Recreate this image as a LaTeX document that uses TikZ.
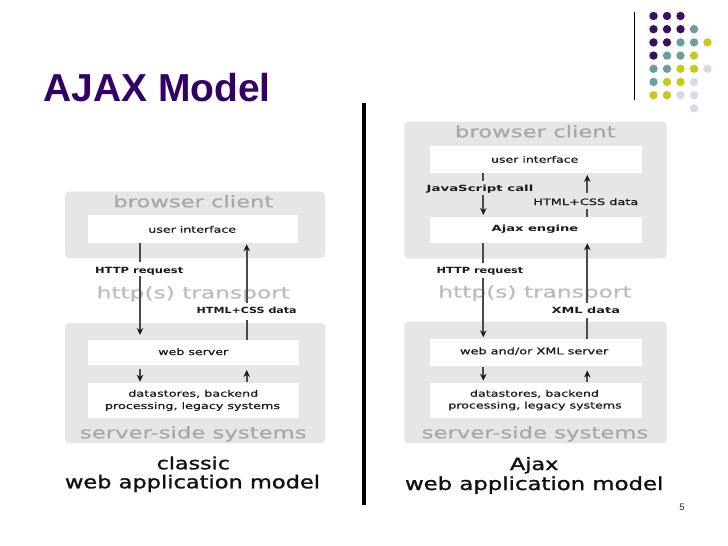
\documentclass[tikz,border=0pt]{standalone}
\usepackage{fontspec}
\usepackage{graphicx}
\usetikzlibrary{arrows.meta}
\newfontfamily\dv{DejaVu Sans}
\newfontfamily\dvm{DejaVu Sans}[FakeBold=0.6]
\newfontfamily\dvc{DejaVu Sans}[FakeBold=1.2]
\newfontfamily\lib{Liberation Sans}
\definecolor{titlecol}{HTML}{330066}
\definecolor{boxgray}{HTML}{E6E6E6}
\definecolor{biggray}{HTML}{A8A8A8}
\definecolor{transcol}{HTML}{BCBCBC}
\definecolor{txtcol}{HTML}{1A1A1A}
\definecolor{linecol}{HTML}{4A4A4A}
\definecolor{headcol}{HTML}{1A1A1A}
\definecolor{captcol}{HTML}{111111}
\definecolor{dP}{HTML}{3C0F5C}
\definecolor{dT}{HTML}{6F9C9C}
\definecolor{dY}{HTML}{C9C823}
\definecolor{dL}{HTML}{D9D9EA}
\newcommand\fw[2]{\resizebox{#1pt}{\height}{#2}}
\tikzset{
 graybox/.style={fill=boxgray, rounded corners=4pt, inner sep=0pt, outer sep=0pt, anchor=north west},
 whitebox/.style={fill=white, inner sep=0pt, outer sep=0pt, anchor=north west},
 bigtxt/.style={font=\dvm\fontsize{16}{16}\selectfont, text=biggray, inner sep=0pt, outer sep=0pt, anchor=base},
 smalltxt/.style={font=\dvm\fontsize{9}{9}\selectfont, text=txtcol, inner sep=0pt, outer sep=0pt, anchor=base},
 lbltxt/.style={font=\dv\bfseries\fontsize{8.5}{8.5}\selectfont, text=txtcol, inner sep=0pt, outer sep=0pt, anchor=base},
 captxt/.style={font=\dvc\fontsize{18}{18}\selectfont, text=captcol, inner sep=0pt, outer sep=0pt, anchor=base},
 ln/.style={draw=linecol, line width=1.9pt},
 arr/.style={ln, -{Stealth[length=7pt,width=6.5pt,color=headcol]}},
}
\begin{document}
\begin{tikzpicture}[x=1pt,y=-1pt]
\useasboundingbox[fill=white] (0,0) rectangle (728,546);

% title
\node[anchor=base west, font=\lib\bfseries\fontsize{39}{39}\selectfont, text=titlecol, inner sep=0pt] (title) at (43,101.7) {AJAX Model};

% decorative dots
\draw[line width=1pt] (634.7,12.3) -- (634.7,100);
\foreach \c/\r/\col in {1/1/dP,2/1/dP,3/1/dP,
  1/2/dP,2/2/dP,3/2/dP,4/2/dT,
  1/3/dP,2/3/dP,3/3/dT,4/3/dT,5/3/dY,
  1/4/dP,2/4/dT,3/4/dT,4/4/dY,
  1/5/dT,2/5/dT,3/5/dY,4/5/dY,5/5/dL,
  1/6/dT,2/6/dY,3/6/dY,4/6/dL,
  1/7/dY,2/7/dY,3/7/dL,4/7/dL,
  4/8/dL}
  \fill[\col] ({640+13.5*\c},{2.8+13.2*\r}) circle (4.2pt);

% divider
\draw[line width=4.6pt] (364,102.7) -- (364,505);

% page number
\node[anchor=base, font=\lib\fontsize{9.5}{9.5}\selectfont, text=black!85, inner sep=0pt] (pg) at (682,510.5) {5};

% ---------- left diagram ----------
\node[graybox, minimum width=260pt, minimum height=66.3pt] (LBC) at (65,191.7) {};
\node[graybox, minimum width=260pt, minimum height=120.3pt] (LSS) at (65,323) {};
\node[whitebox, minimum width=210pt, minimum height=27.7pt] (LUI) at (88.3,215) {};
\node[whitebox, minimum width=211pt, minimum height=25pt] (LWS) at (88.3,340) {};
\node[whitebox, minimum width=211pt, minimum height=35pt] (LDS) at (88.3,383.3) {};

\node[bigtxt] (LBCt) at (193.3,207.3) {\fw{160}{browser client}};
\node[smalltxt] (LUIt) at (192.2,232.7) {\fw{87.7}{user interface}};
\node[bigtxt, text=transcol] (Ltr) at (193.3,298.3) {\fw{193.3}{http(s) transport}};
\node[smalltxt] (LWSt) at (193.3,355) {\fw{70}{web server}};
\node[smalltxt] (LDS1) at (193.3,396.7) {\fw{130}{datastores, backend}};
\node[smalltxt] (LDS2) at (192.5,409) {\fw{175}{processing, legacy systems}};
\node[bigtxt] (LSSt) at (193.3,438.3) {\fw{226.7}{server-side systems}};
\node[captxt, font=\dvc\fontsize{17}{17}\selectfont] (Lc1) at (193.3,469.3) {\fw{73.3}{classic}};
\node[captxt] (Lc2) at (192.5,488.3) {\fw{255}{web application model}};

\node[lbltxt] (Lreq) at (139.2,273.3) {\fw{88.3}{HTTP request}};
\node[lbltxt] (Lhtml) at (246.7,313.3) {\fw{100}{HTML+CSS data}};

\coordinate (xa) at (140,0);
\coordinate (xb) at (246.7,0);
\draw[ln, shorten >=5pt] (LUI.south -| xa) -- (Lreq.north -| xa);
\draw[arr, shorten <=1.4pt, shorten >=5pt] (Lreq.south -| xa) -- (LWS.north -| xa);
\draw[arr, shorten <=4pt, shorten >=1.6pt] (Lhtml.north -| xb) -- (LUI.south -| xb);
\draw[ln, shorten >=6.7pt] (LWS.north -| xb) -- (Lhtml.south -| xb);
\draw[arr, shorten <=4pt, shorten >=1.6pt] (LWS.south -| xa) -- (LDS.north -| xa);
\draw[arr, shorten <=1.6pt, shorten >=5pt] (LDS.north -| xb) -- (LWS.south -| xb);

% ---------- right diagram ----------
\node[graybox, minimum width=262.4pt, minimum height=136.6pt] (RBC) at (404.3,121.7) {};
\node[graybox, minimum width=262.4pt, minimum height=121.6pt] (RSS) at (404.3,321.7) {};
\node[whitebox, minimum width=211.7pt, minimum height=26.7pt] (RUI) at (430,146) {};
\node[whitebox, minimum width=211.7pt, minimum height=26pt] (RAE) at (430,216.7) {};
\node[whitebox, minimum width=211.7pt, minimum height=26.7pt] (RWS) at (430,339.3) {};
\node[whitebox, minimum width=211.7pt, minimum height=35pt] (RDS) at (430,383.3) {};

\node[bigtxt] (RBCt) at (535.3,137.3) {\fw{160.7}{browser client}};
\node[smalltxt] (RUIt) at (534.7,162.7) {\fw{87.3}{user interface}};
\node[lbltxt] (RAEt) at (535,231.7) {\fw{86.7}{Ajax engine}};
\node[bigtxt, text=transcol] (Rtr) at (535,297.5) {\fw{193.3}{http(s) transport}};
\node[smalltxt] (RWSt) at (534.2,354.3) {\fw{148.3}{web and/or XML server}};
\node[smalltxt] (RDS1) at (534.5,396.7) {\fw{129}{datastores, backend}};
\node[smalltxt] (RDS2) at (535,408.5) {\fw{173.3}{processing, legacy systems}};
\node[bigtxt] (RSSt) at (535,438.3) {\fw{226.7}{server-side systems}};
\node[captxt, font=\dvc\fontsize{17}{17}\selectfont] (Rc1) at (534.2,470) {\fw{48.3}{Ajax}};
\node[captxt] (Rc2) at (534.2,490) {\fw{258.3}{web application model}};

\node[lbltxt] (Rjs) at (480,191.7) {\fw{106.7}{JavaScript call}};
\node[smalltxt, font=\dvm\fontsize{8.8}{8.8}\selectfont] (Rhtml) at (585.8,205) {\fw{105}{HTML+CSS data}};
\node[lbltxt] (Rreq) at (480,273.3) {\fw{86.7}{HTTP request}};
\node[lbltxt] (Rxml) at (585.8,313.3) {\fw{68.3}{XML data}};

\coordinate (xc) at (483.3,0);
\coordinate (xd) at (587.3,0);
\draw[ln, shorten >=3.8pt] (RUI.south -| xc) -- (Rjs.north -| xc);
\draw[arr, shorten <=1.3pt, shorten >=1.7pt] (Rjs.south -| xc) -- (RAE.north -| xc);
\draw[ln, shorten >=3.8pt] (RAE.south -| xc) -- (Rreq.north -| xc);
\draw[arr, shorten <=3pt, shorten >=2pt] (Rreq.south -| xc) -- (RWS.north -| xc);
\draw[arr, shorten <=5.5pt, shorten >=2.3pt] (Rhtml.north -| xd) -- (RUI.south -| xd);
\draw[ln, shorten >=4.3pt] (RAE.north -| xd) -- (Rhtml.south -| xd);
\draw[arr, shorten <=3.5pt, shorten >=0.6pt] (Rxml.north -| xd) -- (RAE.south -| xd);
\draw[ln, shorten >=5pt] (RWS.north -| xd) -- (Rxml.south -| xd);
\draw[arr, shorten <=1pt, shorten >=2.6pt] (RWS.south -| xc) -- (RDS.north -| xc);
\draw[arr, shorten <=1.6pt, shorten >=4.5pt] (RDS.north -| xd) -- (RWS.south -| xd);
\end{tikzpicture}
\end{document}
